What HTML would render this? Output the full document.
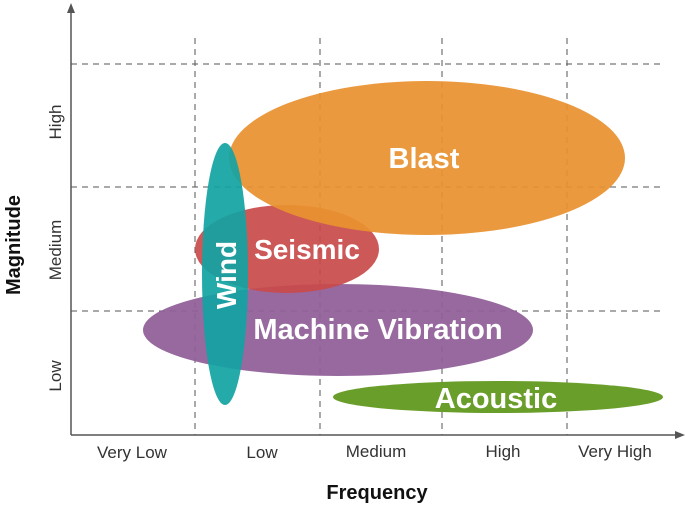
<!DOCTYPE html>
<html><head><style>html,body{margin:0;padding:0;background:#fff;}</style></head><body>
<svg width="685" height="505" viewBox="0 0 685 505" xmlns="http://www.w3.org/2000/svg" font-family="Liberation Sans, sans-serif">
<g stroke="#555" stroke-width="1" stroke-dasharray="6,5" fill="none">
<line x1="195" y1="38" x2="195" y2="435"/><line x1="320" y1="38" x2="320" y2="435"/>
<line x1="442" y1="38" x2="442" y2="435"/><line x1="567" y1="38" x2="567" y2="435"/>
<line x1="71" y1="64" x2="663" y2="64"/><line x1="71" y1="187" x2="663" y2="187"/><line x1="71" y1="311" x2="663" y2="311"/>
</g>
<g stroke="#555" stroke-width="1.5">
<line x1="71" y1="435" x2="71" y2="8"/><line x1="71" y1="435" x2="680" y2="435"/>
</g>
<polygon points="71,3 67,13 75,13" fill="#555"/><polygon points="685,435 675,431 675,439" fill="#555"/>
<ellipse cx="338" cy="330" rx="195" ry="46" fill="#91619a" opacity="0.95"/>
<ellipse cx="287" cy="249" rx="92" ry="44" fill="#c94a4a" opacity="0.92"/>
<ellipse cx="427" cy="158" rx="198" ry="77" fill="#e8912f" opacity="0.93"/>
<ellipse cx="225" cy="274" rx="23" ry="131" fill="#12a3a3" opacity="0.92"/>
<ellipse cx="498" cy="397" rx="165" ry="16" fill="#6a9e2a"/>
<g fill="#fff" font-weight="bold" text-anchor="middle">
<text x="424" y="168" font-size="29">Blast</text>
<text x="307" y="259" font-size="28">Seismic</text>
<text x="378" y="339" font-size="29">Machine Vibration</text>
<text x="496" y="408" font-size="29">Acoustic</text>
<text transform="translate(236,275) rotate(-90)" font-size="28">Wind</text>
</g>
<g fill="#333" font-size="17" text-anchor="middle">
<text x="132" y="458">Very Low</text><text x="262" y="458">Low</text>
<text x="376" y="457">Medium</text><text x="503" y="457">High</text><text x="615" y="457">Very High</text>
<text transform="translate(61,122) rotate(-90)">High</text>
<text transform="translate(61,250) rotate(-90)">Medium</text>
<text transform="translate(61,376) rotate(-90)">Low</text>
</g>
<text x="377" y="499" font-size="20" font-weight="bold" text-anchor="middle" fill="#111">Frequency</text>
<text transform="translate(20,245) rotate(-90)" font-size="20" font-weight="bold" text-anchor="middle" fill="#111">Magnitude</text>
</svg>
</body></html>
